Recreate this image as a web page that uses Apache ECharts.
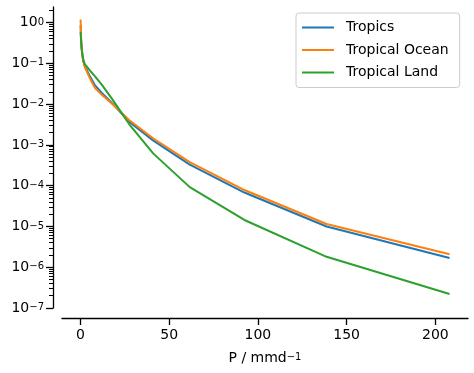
<!DOCTYPE html>
<html>
<head>
<meta charset="utf-8">
<script src="https://cdn.jsdelivr.net/npm/echarts@6/dist/echarts.min.js"></script>
<style>html,body{margin:0;padding:0;background:#fff}#c{width:474px;height:373px}</style>
</head>
<body>
<div id="c"></div>
<script>
const xVals   = [0.1, 0.2, 0.4, 0.7, 1.1, 1.6, 2.4, 3.6, 5.4, 8.1, 12.2, 18.3, 27.4, 41.1, 61.6, 92.4, 138.7, 208];
const tropics = [0.86, 0.58, 0.35, 0.229, 0.159, 0.116, 0.0853, 0.068, 0.0472, 0.0292, 0.0186, 0.0100, 0.00372, 0.00127, 3.29e-4, 6.78e-5, 9.96e-6, 1.68e-6];
const ocean   = [1.19, 0.73, 0.371, 0.236, 0.150, 0.113, 0.0817, 0.0627, 0.0422, 0.0250, 0.0166, 0.00973, 0.00406, 0.00143, 3.79e-4, 7.80e-5, 1.15e-5, 2.07e-6];
const land    = [0.582, 0.464, 0.331, 0.223, 0.168, 0.123, 0.0955, 0.083, 0.066, 0.0485, 0.0292, 0.0125, 0.00324, 6.1e-4, 9.2e-5, 1.44e-5, 1.8e-6, 2.2e-7];
const seriesNames = ['Tropics', 'Tropical Ocean', 'Tropical Land'];
const seriesColors = ['#1f77b4', '#ff7f0e', '#2ca02c'];
const xTicks = [0, 50, 100, 150, 200];
const yMajorTicks = [1e-7, 1e-6, 1e-5, 1e-4, 1e-3, 1e-2, 1e-1, 1e0];
const yMinorTicks = [];
for (let e = -7; e <= 0; e++) for (let k = 2; k <= 9; k++) { const v = k * Math.pow(10, e); if (v <= 2.4) yMinorTicks.push(v); }

function expLabel(v) {
  const e = Math.round(Math.log10(v));
  return '{b|10}{s|' + String(e).replace('-', '\u2212') + '}';
}
const supRich = {
  b: {fontFamily: 'DejaVu Sans', fontSize: 14, color: '#000', lineHeight: 14, verticalAlign: 'bottom', padding: [4, 0, 0, 0]},
  s: {fontFamily: 'DejaVu Sans', fontSize: 10, color: '#000', lineHeight: 10, verticalAlign: 'top', padding: [1.5, 0, 0, 0]}
};
const pair = arr => xVals.map((x, i) => [x, arr[i]]);
const font = 'DejaVu Sans';
const chart = echarts.init(document.getElementById('c'), null, {renderer: 'canvas'});
chart.setOption({
  animation: false,
  backgroundColor: '#fff',
  textStyle: {fontFamily: font},
  grid: {left: 62, right: 6, top: 7, bottom: 65, containLabel: false},
  legend: {
    orient: 'vertical', left: 296, top: 13,
    icon: 'rect', itemWidth: 32, itemHeight: 2, itemGap: 8.5,
    padding: [7.5, 11, 8, 6],
    backgroundColor: 'rgba(255,255,255,0.8)', borderColor: '#cccccc', borderWidth: 1, borderRadius: 3,
    textStyle: {fontFamily: font, fontSize: 14, color: '#000', padding: [0, 0, 0, 7]},
    data: seriesNames
  },
  xAxis: {
    type: 'value', min: -10.4, max: 218.4, offset: 10,
    name: '{b|P / mmd}{s|\u22121}', nameLocation: 'middle', nameGap: 29,
    nameTextStyle: {fontFamily: font, fontSize: 14, color: '#000', rich: supRich},
    axisLine: {show: true, onZero: false, lineStyle: {color: '#000', width: 1.3}},
    axisTick: {show: true, length: 7, lineStyle: {color: '#000', width: 1.3}, customValues: xTicks},
    axisLabel: {fontFamily: font, fontSize: 14, color: '#000', margin: 10, customValues: xTicks},
    splitLine: {show: false}
  },
  yAxis: [{
    type: 'log', logBase: 10, min: 1e-7, max: 2.4, offset: 9, position: 'left',
    axisLine: {show: true, onZero: false, lineStyle: {color: '#000', width: 1.3}},
    axisTick: {show: true, length: 7, lineStyle: {color: '#000', width: 1.3}, customValues: yMajorTicks},
    axisLabel: {fontFamily: font, fontSize: 14, color: '#000', margin: 9, customValues: yMajorTicks, formatter: expLabel, rich: supRich},
    splitLine: {show: false}
  }, {
    type: 'log', logBase: 10, min: 1e-7, max: 2.4, offset: 9, position: 'left',
    axisLine: {show: false, onZero: false},
    axisTick: {show: true, length: 4, lineStyle: {color: '#000', width: 1}, customValues: yMinorTicks},
    axisLabel: {show: false},
    splitLine: {show: false}
  }],
  series: seriesNames.map((n, i) => ({
    name: n, type: 'line', data: pair([tropics, ocean, land][i]), symbol: 'none',
    lineStyle: {width: 2, color: seriesColors[i]}, itemStyle: {color: seriesColors[i]}
  }))
});
</script>
</body>
</html>
